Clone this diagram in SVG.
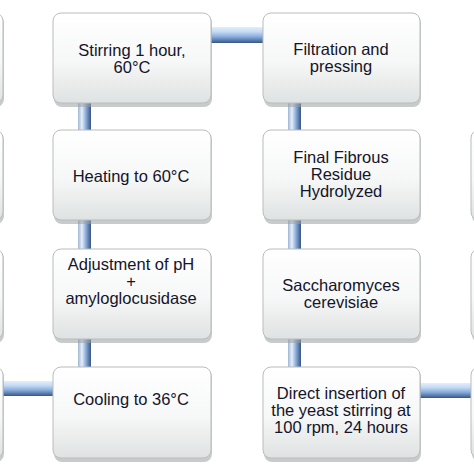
<svg xmlns="http://www.w3.org/2000/svg" width="474" height="474" viewBox="0 0 474 474">
<defs>
<linearGradient id="boxFill" x1="0" y1="0" x2="0" y2="1">
<stop offset="0" stop-color="#ffffff"/>
<stop offset="0.55" stop-color="#f6f7f7"/>
<stop offset="1" stop-color="#dfe2e2"/>
</linearGradient>
<linearGradient id="pipeH" x1="0" y1="0" x2="0" y2="1">
<stop offset="0" stop-color="#e4eefa"/>
<stop offset="0.3" stop-color="#c4daf4"/>
<stop offset="0.6" stop-color="#8aaedc"/>
<stop offset="0.85" stop-color="#5478ac"/>
<stop offset="1" stop-color="#3a5580"/>
</linearGradient>
<linearGradient id="pipeV" x1="0" y1="0" x2="1" y2="0">
<stop offset="0" stop-color="#9fb6d4"/>
<stop offset="0.3" stop-color="#e6eef9"/>
<stop offset="0.55" stop-color="#9ab8e0"/>
<stop offset="0.85" stop-color="#5577aa"/>
<stop offset="1" stop-color="#3a5580"/>
</linearGradient>
</defs>
<style>
.shadow{fill:#9aa0a0;opacity:0.55}
.box{fill:url(#boxFill);stroke:#b9bdbd;stroke-width:1}
.lbl{font-family:"Liberation Sans",Arial,sans-serif;font-size:16.5px;fill:#14142a;text-anchor:middle}
</style>
<rect width="474" height="474" fill="#ffffff"/>
<g id="connectors">
<rect x="78" y="100" width="13" height="272" fill="url(#pipeV)"/>
<rect x="288" y="100" width="13" height="272" fill="url(#pipeV)"/>
<rect x="205" y="27" width="64" height="16" fill="url(#pipeH)"/>
<rect x="0" y="381" width="58" height="15" fill="url(#pipeH)"/>
<rect x="415" y="383" width="60" height="15" fill="url(#pipeH)"/>
</g>
<g id="partial-left">
<rect class="shadow" x="-150" y="15" width="154" height="92" rx="8"/>
<rect class="box" x="-151" y="13" width="154" height="90" rx="8"/>
<rect class="shadow" x="-150" y="132" width="154" height="92" rx="8"/>
<rect class="box" x="-151" y="130" width="154" height="90" rx="8"/>
<rect class="shadow" x="-150" y="251" width="154" height="92" rx="8"/>
<rect class="box" x="-151" y="249" width="154" height="90" rx="8"/>
<rect class="shadow" x="-150" y="369" width="154" height="93" rx="8"/>
<rect class="box" x="-151" y="367" width="154" height="91" rx="8"/>
</g>
<g id="partial-right">
<rect class="shadow" x="472" y="132" width="157" height="92" rx="8"/>
<rect class="box" x="471" y="130" width="157" height="90" rx="8"/>
<rect class="shadow" x="472" y="251" width="157" height="92" rx="8"/>
<rect class="box" x="471" y="249" width="157" height="90" rx="8"/>
<rect class="shadow" x="472" y="369" width="157" height="93" rx="8"/>
<rect class="box" x="471" y="367" width="157" height="91" rx="8"/>
</g>
<g id="stirring">
<rect class="shadow" x="54" y="15" width="158" height="92" rx="8"/>
<rect class="box" x="53" y="13" width="158" height="90" rx="8"/>
<text class="lbl" x="132" y="56">Stirring 1 hour,</text>
<text class="lbl" x="132" y="73">60°C</text>
</g>
<g id="heating">
<rect class="shadow" x="54" y="132" width="158" height="92" rx="8"/>
<rect class="box" x="53" y="130" width="158" height="90" rx="8"/>
<text class="lbl" x="131" y="182">Heating to 60°C</text>
</g>
<g id="adjustment">
<rect class="shadow" x="54" y="251" width="158" height="92" rx="8"/>
<rect class="box" x="53" y="249" width="158" height="90" rx="8"/>
<text class="lbl" x="131" y="270">Adjustment of pH</text>
<text class="lbl" x="131" y="287">+</text>
<text class="lbl" x="131" y="304">amyloglocusidase</text>
</g>
<g id="cooling">
<rect class="shadow" x="54" y="369" width="158" height="93" rx="8"/>
<rect class="box" x="53" y="367" width="158" height="91" rx="8"/>
<text class="lbl" x="131" y="405">Cooling to 36°C</text>
</g>
<g id="filtration">
<rect class="shadow" x="264" y="15" width="157" height="92" rx="8"/>
<rect class="box" x="263" y="13" width="157" height="90" rx="8"/>
<text class="lbl" x="341" y="55">Filtration and</text>
<text class="lbl" x="341" y="72">pressing</text>
</g>
<g id="residue">
<rect class="shadow" x="264" y="132" width="157" height="92" rx="8"/>
<rect class="box" x="263" y="130" width="157" height="90" rx="8"/>
<text class="lbl" x="341" y="163">Final Fibrous</text>
<text class="lbl" x="341" y="180">Residue</text>
<text class="lbl" x="341" y="197">Hydrolyzed</text>
</g>
<g id="saccharomyces">
<rect class="shadow" x="264" y="251" width="157" height="92" rx="8"/>
<rect class="box" x="263" y="249" width="157" height="90" rx="8"/>
<text class="lbl" x="341" y="291">Saccharomyces</text>
<text class="lbl" x="341" y="308">cerevisiae</text>
</g>
<g id="insertion">
<rect class="shadow" x="264" y="369" width="157" height="93" rx="8"/>
<rect class="box" x="263" y="367" width="157" height="91" rx="8"/>
<text class="lbl" x="341" y="399">Direct insertion of</text>
<text class="lbl" x="341" y="416">the yeast stirring at</text>
<text class="lbl" x="341" y="433">100 rpm, 24 hours</text>
</g>
</svg>
